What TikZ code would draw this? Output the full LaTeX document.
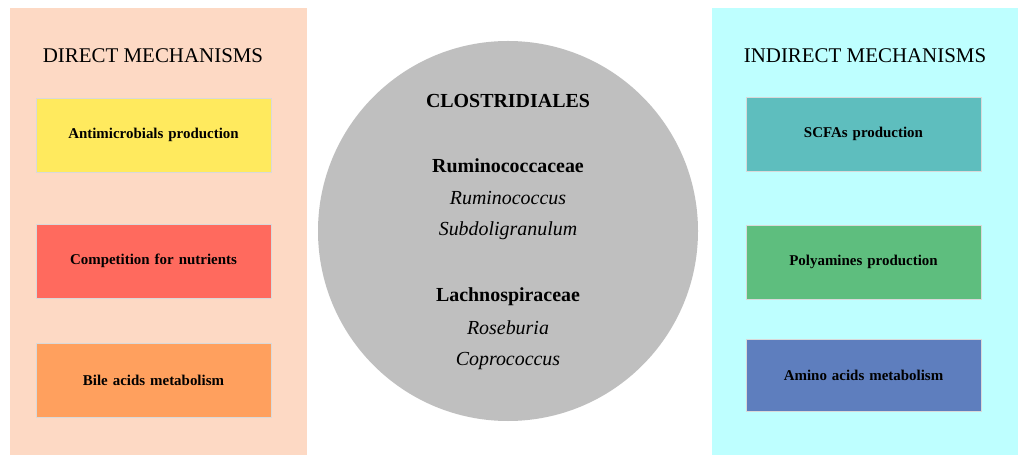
\documentclass[tikz,border=0pt]{standalone}
\usepackage{fontspec}
\setmainfont{Liberation Serif}
\begin{document}
\begin{tikzpicture}[x=1bp,y=-1bp,
 panel/.style={draw=none},
 mbox/.style={draw=white!85!black,line width=0.6bp,minimum width=235bp,minimum height=74bp,align=center,font=\fontsize{15}{27}\selectfont\bfseries,text width=200bp},
 head/.style={font=\fontsize{21}{24}\selectfont},
 fam/.style={font=\fontsize{20}{22}\selectfont\bfseries},
 gen/.style={font=\fontsize{20}{22}\selectfont\itshape}]
\useasboundingbox (0,0) rectangle (1024,461);
\fill[white] (0,0) rectangle (1024,461);
\fill[fill={rgb,255:red,253;green,217;blue,196}] (10,8) rectangle (307,455);
\fill[fill={rgb,255:red,190;green,255;blue,255}] (712,8) rectangle (1018,455);
\node[head] (dh) at (153,56) {DIRECT MECHANISMS};
\node[head] (ih) at (865,56) {INDIRECT MECHANISMS};
\node[mbox,fill={rgb,255:red,255;green,234;blue,94}] (a) at (153.5,135) {Antimicrobials production};
\node[mbox,fill={rgb,255:red,255;green,106;blue,94}] (b) at (153.5,261) {Competition for nutrients};
\node[mbox,fill={rgb,255:red,255;green,160;blue,94}] (c) at (153.5,380) {Bile acids metabolism};
\node[mbox,fill={rgb,255:red,94;green,190;blue,190}] (d) at (863.5,134) {SCFAs production};
\node[mbox,fill={rgb,255:red,94;green,190;blue,126}] (e) at (863.5,262) {Polyamines production};
\node[mbox,minimum height=72bp,fill={rgb,255:red,94;green,126;blue,190}] (f) at (863.5,375) {Amino acids metabolism};
\node[circle,fill={rgb,255:red,191;green,191;blue,191},minimum size=380bp] (o) at (508,231) {};
\node[fam] (t) at (508,101) {CLOSTRIDIALES};
\node[fam] (r) at (508,166) {Ruminococcaceae};
\node[gen] (r1) at (508,198) {Ruminococcus};
\node[gen] (r2) at (508,231) {Subdoligranulum};
\node[fam] (l) at (508,297) {Lachnospiraceae};
\node[gen] (l1) at (508,328) {Roseburia};
\node[gen] (l2) at (508,361) {Coprococcus};
\end{tikzpicture}
\end{document}
